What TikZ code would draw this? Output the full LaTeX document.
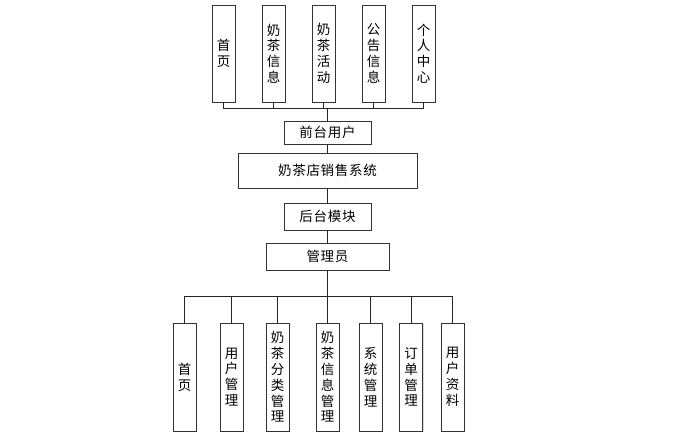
\documentclass[tikz,border=0pt]{standalone}
\usepackage{fontspec}
\setmainfont{Noto Sans CJK SC}
\usetikzlibrary{shadows}
\tikzset{
  box/.style={draw=black!80, line width=0.8pt, fill=white, inner sep=0pt,
    align=center, font=\fontsize{13.5}{15.8}\selectfont,
    drop shadow={shadow xshift=1.2pt, shadow yshift=-1.2pt, fill=black!25, opacity=0.6}},
  hbox/.style={box, font=\fontsize{13.5}{15.8}\selectfont\addfontfeature{LetterSpace=5}},
  vbox/.style={box, minimum width=23pt},
  wire/.style={draw=black!85, line width=0.8pt}
}
\begin{document}
\begin{tikzpicture}[x=1pt,y=-1pt]
\useasboundingbox (0,0) rectangle (674,447);
% top row
\node[vbox, minimum height=97pt] (t1) at (223.5,53.5) {首\\页};
\node[vbox, minimum height=97pt] (t2) at (273.5,53.5) {奶\\茶\\信\\息};
\node[vbox, minimum height=97pt] (t3) at (323.5,53.5) {奶\\茶\\活\\动};
\node[vbox, minimum height=97pt] (t4) at (373.5,53.5) {公\\告\\信\\息};
\node[vbox, minimum height=97pt] (t5) at (423.5,53.5) {个\\人\\中\\心};
\coordinate (busT) at (327.5,108);
% middle column
\node[hbox, minimum width=87pt, minimum height=23pt] (qt) at (327.5,132.5) {前台用户};
\node[hbox, minimum width=179pt, minimum height=35pt] (sys) at (327.5,170.5) {奶茶店销售系统};
\node[hbox, minimum width=87pt, minimum height=27pt] (ht) at (327.5,216.5) {后台模块};
\node[hbox, minimum width=123pt, minimum height=27pt] (gly) at (327.5,256.5) {管理员};
\coordinate (busB) at (327.5,296);
% bottom row
\node[vbox, minimum height=108pt] (b1) at (184.5,377) {首\\页};
\node[vbox, minimum height=108pt] (b2) at (231.5,377) {用\\户\\管\\理};
\node[vbox, minimum height=108pt] (b3) at (277.5,377) {奶\\茶\\分\\类\\管\\理};
\node[vbox, minimum height=108pt] (b4) at (327.5,377) {奶\\茶\\信\\息\\管\\理};
\node[vbox, minimum height=108pt] (b5) at (370.5,377) {系\\统\\管\\理};
\node[vbox, minimum height=108pt] (b6) at (411,377) {订\\单\\管\\理};
\node[vbox, minimum height=108pt] (b7) at (452.5,377) {用\\户\\资\\料};
% connectors
\foreach \n in {t1,t2,t3,t4,t5} \draw[wire] (\n.south) |- (busT);
\draw[wire] (busT) -- (qt.north);
\draw[wire] (qt.south) -- (sys.north);
\draw[wire] (sys.south) -- (ht.north);
\draw[wire] (ht.south) -- (gly.north);
\draw[wire] (gly.south) -- (busB);
\foreach \n in {b1,b2,b3,b4,b5,b6,b7} \draw[wire] (busB) -| (\n.north);
\end{tikzpicture}
\end{document}
